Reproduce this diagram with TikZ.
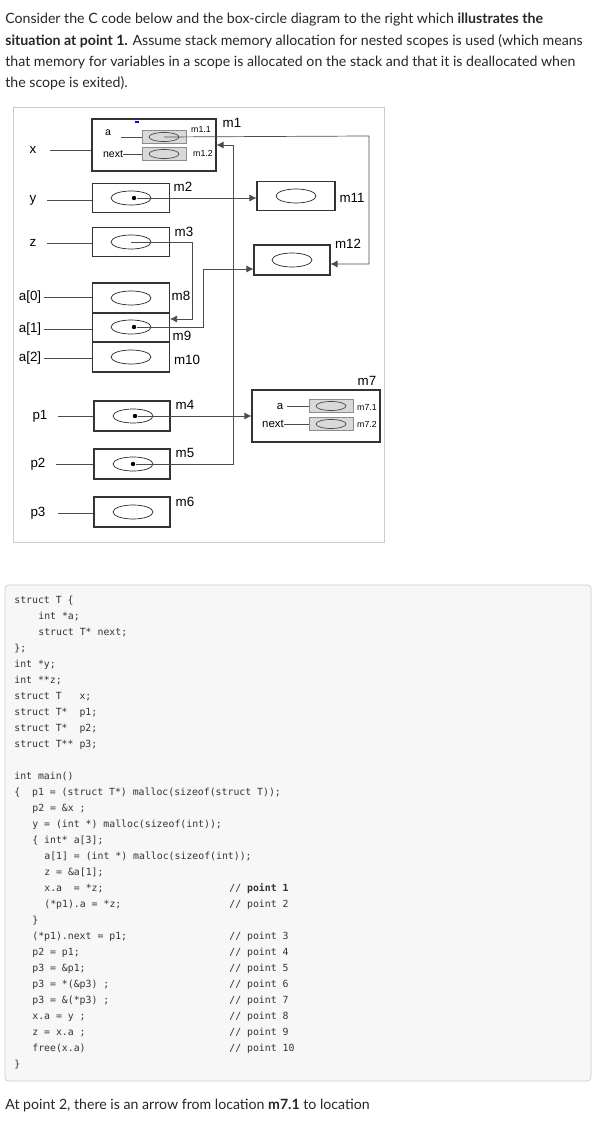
\documentclass[tikz,border=0pt]{standalone}
\usepackage{fontspec}
\setmainfont{Lato}
\newfontfamily\diag{Liberation Sans}
\newfontfamily\code{DejaVu Sans Mono}
\usetikzlibrary{arrows.meta,shapes.geometric}
\begin{document}
\begin{tikzpicture}[x=0.02cm,y=-0.02cm,>={Latex[length=4pt,width=4pt]},
  box/.style 2 args={draw=black!80, semithick, minimum width=#1*0.02cm, minimum height=#2*0.02cm, inner sep=0},
  cell/.style={draw=black!45, fill=black!15, minimum width=44*0.02cm, minimum height=13*0.02cm, inner sep=0},
  oval/.style={draw=black!85, ellipse, minimum width=40*0.02cm, minimum height=14*0.02cm, inner sep=0},
  soval/.style={draw=black!70, ellipse, minimum width=30*0.02cm, minimum height=9*0.02cm, inner sep=0},
  lbl/.style={font=\diag\fontsize{7.6}{8}\selectfont, inner sep=0},
  slbl/.style={font=\diag\fontsize{5}{6}\selectfont, inner sep=0},
  wire/.style={draw=black!70},
  ptr/.style={draw=black!70, ->},
  dot/.style={circle, fill=black, inner sep=0, minimum size=2.5pt},
  txt/.style={anchor=base west, inner sep=0, font=\fontsize{8.05}{9}\selectfont, text=black!85},
  cd/.style={anchor=base west, inner sep=0, font=\code\fontsize{5.6}{6}\selectfont, text=black!80}]
\useasboundingbox (0,0) rectangle (614,1124);
% question text
\node[txt] (t1) at (5,24) {Consider the C code below and the box-circle diagram to the right which \textbf{illustrates the}};
\node[txt] (t2) at (5,46) {\textbf{situation at point 1.} Assume stack memory allocation for nested scopes is used (which means};
\node[txt] (t3) at (5,67) {that memory for variables in a scope is allocated on the stack and that it is deallocated when};
\node[txt] (t4) at (5,88) {the scope is exited).};
% diagram frame
\draw[black!20] (13,107) rectangle (384,542);
\draw[blue, thick] (135,122) -- (139,122);
% m1 = x
\node[box={124}{52}] (m1) at (154,145) {};
\node[cell] (m11c) at (164,137) {};
\node[cell] (m12c) at (164,154) {};
\node[soval] (o11) at (164,137) {};
\node[soval] (o12) at (164,154) {};
\node[lbl, font=\diag\fontsize{6}{7}\selectfont] (la) at (108,133) {a};
\node[lbl, font=\diag\fontsize{6}{7}\selectfont] (lnext) at (113,154) {next};
\draw[wire] (121,137) -- (m11c.west);
\draw[wire] (lnext.east) -- (m12c.west);
\node[slbl] at (201,129) {m1.1};
\node[slbl] at (203,153) {m1.2};
\node[lbl] at (232,123) {m1};
\node[lbl] (vx) at (33,150) {x};
\draw[wire] (50,150) -- (m1.west |- 0,150);
% m2 = y
\node[box={77}{29}] (m2) at (131,198) {};
\node[oval] (o2) at (131,198) {};
\node[dot] (d2) at (134,198) {};
\node[lbl] at (183,187) {m2};
\node[lbl] (vy) at (33,200) {y};
\draw[wire] (47,200) -- (m2.west |- 0,200);
% m3 = z
\node[box={77}{29}] (m3) at (131,242) {};
\node[oval] (o3) at (131,242) {};
\node[lbl] at (184,232) {m3};
\node[lbl] (vz) at (33,243) {z};
\draw[wire] (47,243) -- (m3.west |- 0,243);
% a[0..2]
\node[box={77}{30}] (m8) at (131,298) {};
\node[box={77}{29}] (m9) at (131,327) {};
\node[box={77}{30}] (m10) at (131,357) {};
\node[oval] at (131,298) {};
\node[oval] at (131,327) {};
\node[dot] (d9) at (134,327) {};
\node[oval] at (131,357) {};
\node[lbl] at (181,296) {m8};
\node[lbl] at (182,336) {m9};
\node[lbl] at (187,360) {m10};
\node[lbl] (a0) at (30,297) {a[0]};
\node[lbl] (a1) at (30,329) {a[1]};
\node[lbl] (a2) at (30,358) {a[2]};
\draw[wire] (a0.east) ++(3,0) -- (m8.west |- 0,297);
\draw[wire] (a1.east) ++(3,0) -- (m9.west |- 0,329);
\draw[wire] (a2.east) ++(3,0) -- (m10.west |- 0,358);
% p1 p2 p3
\node[box={76}{30}] (m4) at (132,416) {};
\node[oval] at (133,416) {};
\node[dot] (d4) at (135,416) {};
\node[lbl] at (185,405) {m4};
\node[lbl] (p1) at (40,416) {p1};
\draw[wire] (58,416) -- (m4.west |- 0,416);
\node[box={76}{30}] (m5) at (132,464) {};
\node[oval] at (133,464) {};
\node[dot] (d5) at (133,464) {};
\node[lbl] at (185,453) {m5};
\node[lbl] (p2) at (38,464) {p2};
\draw[wire] (56,464) -- (m5.west |- 0,464);
\node[box={76}{30}] (m6) at (132,512) {};
\node[oval] at (133,512) {};
\node[lbl] at (185,502) {m6};
\node[lbl] (p3) at (38,513) {p3};
\draw[wire] (58,513) -- (m6.west |- 0,513);
% heap
\node[box={78}{29}] (m11) at (296,196) {};
\node[oval] at (296,196) {};
\node[lbl] at (352,198) {m11};
\node[box={76}{30}] (m12) at (292,260) {};
\node[oval] at (292,260) {};
\node[lbl] at (348,244) {m12};
\node[box={128}{52}] (m7) at (316,416) {};
\node[lbl] at (367,381) {m7};
\node[cell] (m71) at (331,406) {};
\node[cell] (m72) at (331,424) {};
\node[soval] at (331,406) {};
\node[soval] at (331,424) {};
\node[lbl, font=\diag\fontsize{6.5}{7}\selectfont] (ba) at (280,406) {a};
\node[lbl, font=\diag\fontsize{6.5}{7}\selectfont] (bnext) at (273,424) {next};
\draw[wire] (ba.east) ++(3,0) -- (m71.west);
\draw[wire] (bnext.east) -- (m72.west);
\node[slbl] at (367,407) {m7.1};
\node[slbl] at (367,424) {m7.2};
% pointers
\coordinate (c1) at (192,242);
\coordinate (c2) at (192,319);
\coordinate (c3) at (203,327);
\coordinate (c4) at (203,269);
\coordinate (c5) at (233,464);
\coordinate (c6) at (233,145);
\coordinate (c7) at (369,136);
\coordinate (c8) at (369,264);
\draw[ptr] (d2) -- (m11.west |- d2);
\draw[ptr] (d4) -- (m7.west |- d4);
\draw[ptr] (o3.center) -- (c1) -- (c2) -- (m9.east |- c2);
\draw[ptr] (d9) -- (c3) -- (c4) -- (m12.west |- c4);
\draw[ptr] (d5) -- (c5) -- (c6) -- (m1.east |- c6);
\draw[ptr] (o11.center) -- (c7) -- (c8) -- (m12.east |- c8);
% code block
\draw[black!20, fill=black!3, rounded corners=2pt] (5,585) rectangle (591,1081);
\node[cd] at (14,603) {struct T \{};
\node[cd] at (38,619) {int *a;};
\node[cd] at (38,635) {struct T* next;};
\node[cd] at (14,651) {\};};
\node[cd] at (14,667) {int *y;};
\node[cd] at (14,683) {int **z;};
\node[cd] at (14,699) {struct T\ \ \ x;};
\node[cd] at (14,715) {struct T*\ \ p1;};
\node[cd] at (14,731) {struct T*\ \ p2;};
\node[cd] at (14,747) {struct T**\ p3;};
\node[cd] at (14,779) {int main()};
\node[cd] at (14,795) {\{\ \ p1 = (struct T*) malloc(sizeof(struct T));};
\node[cd] at (32,811) {p2 = \&x ;};
\node[cd] at (32,827) {y = (int *) malloc(sizeof(int));};
\node[cd] at (32,843) {\{ int* a[3];};
\node[cd] at (44,859) {a[1] = (int *) malloc(sizeof(int));};
\node[cd] at (44,875) {z = \&a[1];};
\node[cd] at (44,891) {x.a\ \ = *z;};
\node[cd] at (44,907) {(*p1).a = *z;};
\node[cd] at (32,923) {\}};
\node[cd] at (32,939) {(*p1).next = p1;};
\node[cd] at (32,955) {p2 = p1;};
\node[cd] at (32,971) {p3 = \&p1;};
\node[cd] at (32,987) {p3 = *(\&p3) ;};
\node[cd] at (32,1003) {p3 = \&(*p3) ;};
\node[cd] at (32,1019) {x.a = y ;};
\node[cd] at (32,1035) {z = x.a ;};
\node[cd] at (32,1051) {free(x.a)};
\node[cd] at (14,1067) {\}};
\node[cd] at (229,891) {// \textbf{point 1}};
\node[cd] at (229,907) {// point 2};
\node[cd] at (229,939) {// point 3};
\node[cd] at (229,955) {// point 4};
\node[cd] at (229,971) {// point 5};
\node[cd] at (229,987) {// point 6};
\node[cd] at (229,1003) {// point 7};
\node[cd] at (229,1019) {// point 8};
\node[cd] at (229,1035) {// point 9};
\node[cd] at (229,1051) {// point 10};
\node[txt] (t5) at (5,1109) {At point 2, there is an arrow from location \textbf{m7.1} to location};
\end{tikzpicture}
\end{document}
